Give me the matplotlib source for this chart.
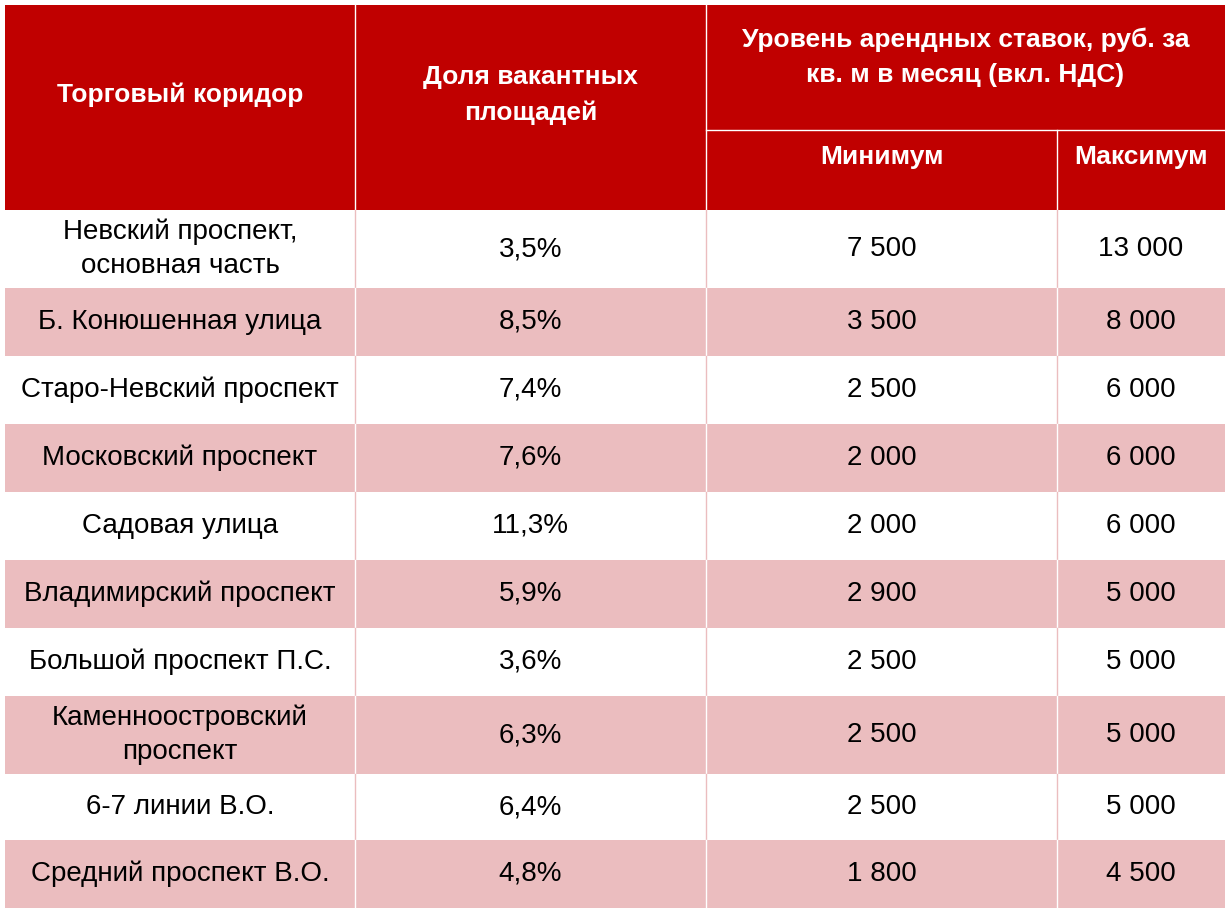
import matplotlib.pyplot as plt
from matplotlib.patches import Rectangle
from matplotlib import font_manager

names = [f.name for f in font_manager.fontManager.ttflist]
family = 'Liberation Sans Narrow' if 'Liberation Sans Narrow' in names else 'Liberation Sans'
plt.rcParams['font.family'] = family

corridors = ["Невский проспект,\nосновная часть", "Б. Конюшенная улица", "Старо-Невский проспект",
             "Московский проспект", "Садовая улица", "Владимирский проспект",
             "Большой проспект П.С.", "Каменноостровский\nпроспект", "6-7 линии В.О.",
             "Средний проспект В.О."]
vacancy = ["3,5%", "8,5%", "7,4%", "7,6%", "11,3%", "5,9%", "3,6%", "6,3%", "6,4%", "4,8%"]
rent_min = ["7 500", "3 500", "2 500", "2 000", "2 000", "2 900", "2 500", "2 500", "2 500", "1 800"]
rent_max = ["13 000", "8 000", "6 000", "6 000", "6 000", "5 000", "5 000", "5 000", "5 000", "4 500"]

RED = '#C00000'
PINK = '#EBBDBF'
col_x = [5, 355, 706, 1057, 1225]
row_y = [210, 288, 356, 424, 492, 560, 628, 696, 774, 840, 908]

fig = plt.figure(figsize=(12.30, 9.15), dpi=100)
ax = fig.add_axes([0, 0, 1, 1])
ax.set_xlim(0, 1230)
ax.set_ylim(915, 0)
ax.axis('off')

# header
ax.add_patch(Rectangle((col_x[0], 5), col_x[-1] - col_x[0], row_y[0] - 5, color=RED, lw=0))
for x in col_x[1:4]:
    y0 = 5 if x != col_x[3] else 130
    ax.plot([x, x], [y0, row_y[0]], color='white', lw=1)
ax.plot([col_x[2], col_x[4]], [130, 130], color='white', lw=1)
hkw = dict(color='white', fontweight='bold', fontsize=19, ha='center', va='center', linespacing=1.6)
ax.text((col_x[0] + col_x[1]) / 2, 95, "Торговый коридор", **hkw)
ax.text((col_x[1] + col_x[2]) / 2, 95, "Доля вакантных\nплощадей", **hkw)
ax.text((col_x[2] + col_x[4]) / 2, 57, "Уровень арендных ставок, руб. за\nкв. м в месяц (вкл. НДС)", **hkw)
ax.text((col_x[2] + col_x[3]) / 2, 157, "Минимум", **hkw)
ax.text((col_x[3] + col_x[4]) / 2, 157, "Максимум", **hkw)

# body
for i in range(len(corridors)):
    top, bot = row_y[i], row_y[i + 1]
    if i % 2 == 1:
        ax.add_patch(Rectangle((col_x[0], top), col_x[-1] - col_x[0], bot - top, color=PINK, lw=0))
    for x in col_x[1:4]:
        ax.plot([x, x], [top, bot], color='white' if i % 2 else '#EBBDBF', lw=1)
    yc = (top + bot) / 2
    vals = [corridors[i], vacancy[i], rent_min[i], rent_max[i]]
    for j, v in enumerate(vals):
        ax.text((col_x[j] + col_x[j + 1]) / 2, yc, v, fontsize=20, ha='center', va='center',
                color='black', linespacing=1.4)

fig.savefig('out.png', dpi=100)
